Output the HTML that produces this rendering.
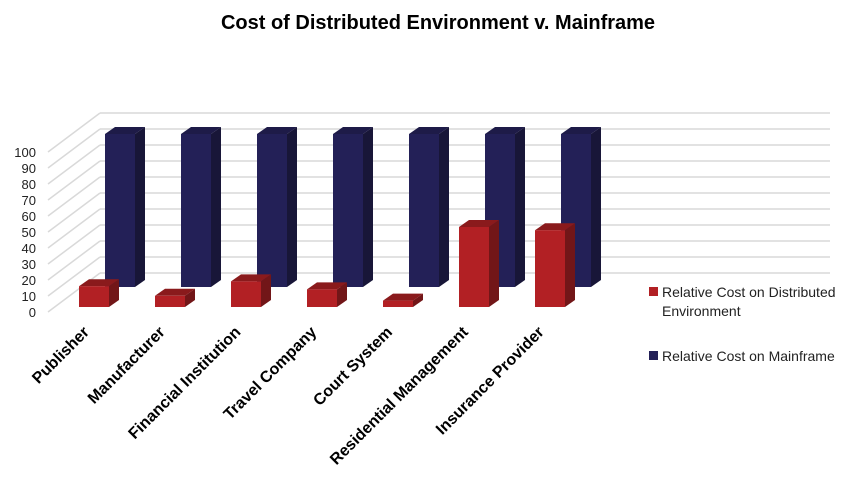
<!DOCTYPE html>
<html><head><meta charset="utf-8"><style>
body{margin:0;background:#fff;}
svg{display:block;font-family:"Liberation Sans",sans-serif;}
</style></head><body>
<svg id="chart" width="863" height="491" viewBox="0 0 863 491">
<text x="438" y="29" text-anchor="middle" font-size="20" font-weight="bold" fill="#000">Cost of Distributed Environment v. Mainframe</text>
<g id="grid"></g>
<g id="yaxis"></g>
<g id="bars"></g>
<g id="xaxis"></g>
<g>
<rect x="649" y="287" width="9" height="9" fill="#b22024"/>
<text x="662" y="297" font-size="14" fill="#222">Relative Cost on Distributed</text>
<text x="662" y="316" font-size="14" fill="#222">Environment</text>
<rect x="649" y="351" width="9" height="9" fill="#232057"/>
<text x="662" y="361" font-size="14" fill="#222">Relative Cost on Mainframe</text>
</g>
</svg>
<script>
const categories=["Publisher","Manufacturer","Financial Institution","Travel Company","Court System","Residential Management","Insurance Provider"];
const distributed=[13,7,16,11,4,50,48];
const mainframe=[100,100,100,100,100,100,100];
const ticks=[0,10,20,30,40,50,60,70,80,90,100];
const NS="http://www.w3.org/2000/svg";
function mk(tag,attrs,parent){const e=document.createElementNS(NS,tag);for(const k in attrs)e.setAttribute(k,attrs[k]);parent.appendChild(e);return e;}
const grid=document.getElementById('grid'),yaxis=document.getElementById('yaxis'),bars=document.getElementById('bars'),xaxis=document.getElementById('xaxis');
const yFront=v=>307-v*1.6;
const yBack=v=>287-v*1.53;
const xRed=i=>79+i*76;
const xBlue=i=>105+i*76;
ticks.forEach(t=>{
  const yb=273-t*1.6;
  const l1=mk('line',{x1:100,y1:yb,x2:830,y2:yb,stroke:'#d9d9d9','stroke-width':1.5},grid);
  
  
  const l2=mk('line',{x1:48,y1:yb+39,x2:100,y2:yb,stroke:'#d9d9d9','stroke-width':1.5},grid);
  
  
});
ticks.forEach(t=>{
  const tx=mk('text',{x:36,y:312-t*1.6+5,'text-anchor':'end','font-size':13,fill:'#222'},yaxis);
  tx.textContent=t;
  
  
});
function bar3d(x,base,top,w,d,dy,cf,cs,ct,name){
  const g=mk('g',{},bars);
  
  
  mk('polygon',{points:`${x+w},${top} ${x+w+d},${top-dy} ${x+w+d},${base-dy} ${x+w},${base}`,fill:cs},g);
  mk('polygon',{points:`${x},${top} ${x+d},${top-dy} ${x+w+d},${top-dy} ${x+w},${top}`,fill:ct},g);
  mk('rect',{x:x,y:top,width:w,height:base-top,fill:cf},g);
}
mainframe.forEach((v,i)=>bar3d(xBlue(i),yBack(0),yBack(v),30,10,7,'#232057','#181638','#1e1b48','bar-mainframe-'+i));
distributed.forEach((v,i)=>bar3d(xRed(i),yFront(0),yFront(v),30,10,7,'#b22024','#721618','#8a1a1c','bar-distributed-'+i));
categories.forEach((c,i)=>{
  const x=90+i*75.8,y=333;
  const t=mk('text',{x:x,y:y,'text-anchor':'end','font-size':16,'font-weight':'bold',fill:'#000',transform:`rotate(-45 ${x} ${y})`},xaxis);
  t.textContent=c;
  
  
});
</script>
</body></html>
